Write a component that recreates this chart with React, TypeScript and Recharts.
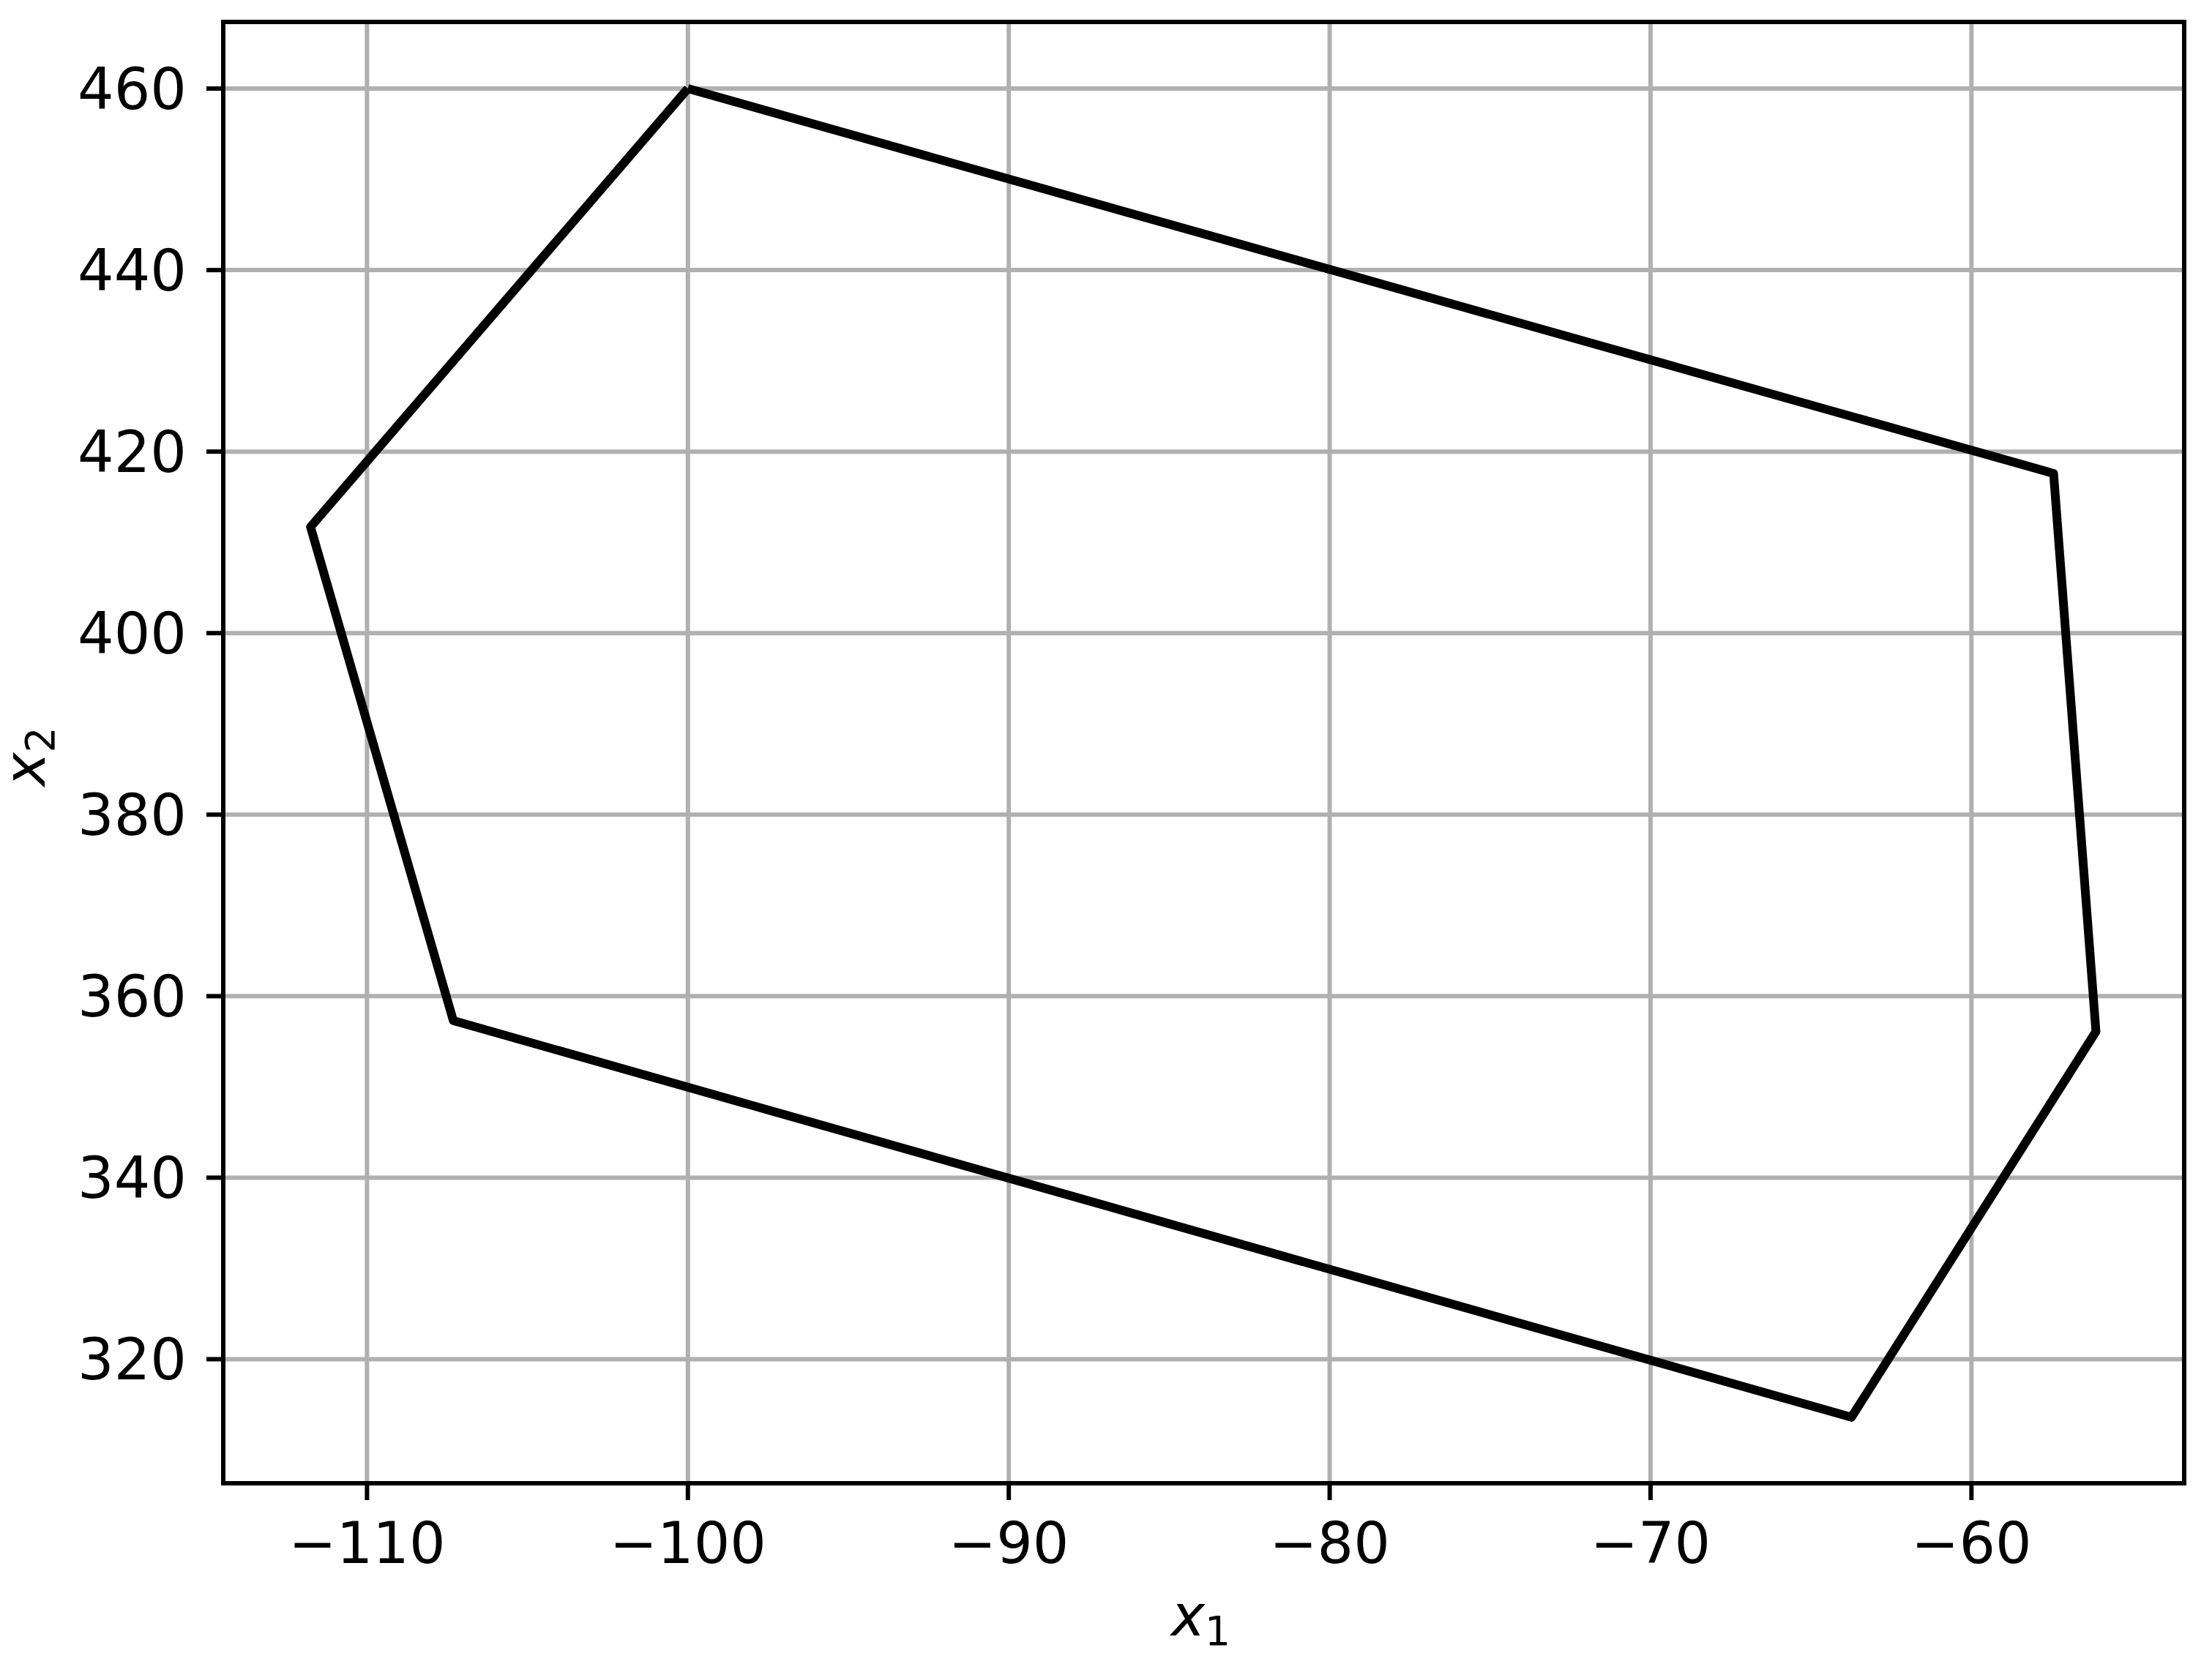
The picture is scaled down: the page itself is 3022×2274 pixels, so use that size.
import {
  LineChart,
  Line,
  XAxis,
  YAxis,
  CartesianGrid,
  ReferenceArea,
  Label,
} from "recharts";

// polygon vertices, closed by repeating the first one
const vertexX = [-100, -57.44, -56.12, -63.74, -107.31, -111.76, -100];
const vertexY = [460, 417.6, 356.1, 313.6, 357.3, 411.7, 460];

const xTicks = [-110, -100, -90, -80, -70, -60];
const yTicks = [320, 340, 360, 380, 400, 420, 440, 460];

const xDomain = [-114.48, -53.37];
const yDomain = [306.33, 467.34];

const data = vertexX.map((x, i) => ({ x, y: vertexY[i] }));

const font = "DejaVu Sans";
const minus = (v: number) => String(v).replace("-", "\u2212");

function XLabel(props: any) {
  const { viewBox } = props;
  const cx = viewBox.x + viewBox.width / 2 - 4;
  return (
    <text x={cx} y={2235} textAnchor="middle" fontFamily={font} fontSize={78} fill="#000">
      <tspan fontStyle="italic">x</tspan>
      <tspan fontSize={55} dy={13}>1</tspan>
    </text>
  );
}

function YLabel() {
  const cx = 61;
  const cy = 1034;
  return (
    <text
      x={cx}
      y={cy}
      textAnchor="middle"
      fontFamily={font}
      fontSize={78}
      fill="#000"
      transform={`rotate(-90 ${cx} ${cy})`}
    >
      <tspan fontStyle="italic">x</tspan>
      <tspan fontSize={55} dy={13}>2</tspan>
    </text>
  );
}

export default function App() {
  return (
    <div style={{ position: "absolute", left: 0, top: 0, background: "#fff" }}>
      <LineChart
        width={3022}
        height={2274}
        data={data}
        margin={{ top: 30, right: 38, left: 0, bottom: 0 }}
      >
        <CartesianGrid stroke="#b0b0b0" strokeWidth={6} />
        <XAxis
          dataKey="x"
          type="number"
          domain={xDomain}
          ticks={xTicks}
          allowDataOverflow
          height={247}
          tickSize={23}
          tickMargin={31}
          tickFormatter={minus}
          axisLine={{ stroke: "#000", strokeWidth: 6 }}
          tickLine={{ stroke: "#000", strokeWidth: 6 }}
          tick={{ fill: "#000", fontSize: 78, fontFamily: font }}
        >
          <Label content={<XLabel />} />
        </XAxis>
        <YAxis
          dataKey="y"
          type="number"
          domain={yDomain}
          ticks={yTicks}
          allowDataOverflow
          width={305}
          tickSize={23}
          tickMargin={27}
          axisLine={{ stroke: "#000", strokeWidth: 6 }}
          tickLine={{ stroke: "#000", strokeWidth: 6 }}
          tick={{ fill: "#000", fontSize: 78, fontFamily: font }}
        >
          <Label content={<YLabel />} />
        </YAxis>
        <ReferenceArea
          x1={xDomain[0]}
          x2={xDomain[1]}
          y1={yDomain[0]}
          y2={yDomain[1]}
          fill="none"
          stroke="#000"
          strokeWidth={6}
          ifOverflow="visible"
        />
        <Line
          type="linear"
          dataKey="y"
          stroke="#000"
          strokeWidth={12}
          strokeLinejoin="round"
          dot={false}
          isAnimationActive={false}
        />
      </LineChart>
    </div>
  );
}
